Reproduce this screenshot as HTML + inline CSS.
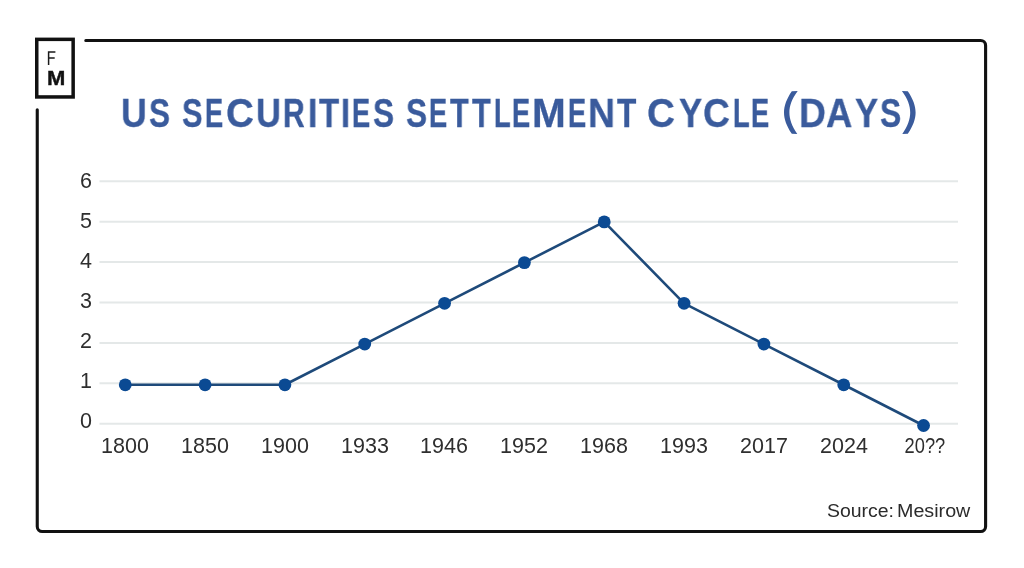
<!DOCTYPE html>
<html><head><meta charset="utf-8">
<style>
html,body{margin:0;padding:0;background:#fff;}
body{width:1024px;height:568px;position:relative;overflow:hidden;font-family:"Liberation Sans",sans-serif;}
.lbl,.s,.w,.lf,.lm{will-change:transform;}
svg{position:absolute;left:0;top:0;}
.w{position:absolute;top:93.3px;font-weight:bold;font-size:40px;line-height:40px;color:#3a5b9c;-webkit-text-stroke:0.3px #3a5b9c;white-space:nowrap;transform-origin:0 0;}
.lf{position:absolute;font-size:19.5px;line-height:19.5px;color:#111;white-space:nowrap;transform-origin:0 0;}
.lm{position:absolute;font-size:20px;line-height:20px;font-weight:bold;color:#111;-webkit-text-stroke:0.4px #111;white-space:nowrap;transform-origin:0 0;}
.lbl{position:absolute;font-size:21.5px;line-height:21.5px;color:#2e2e2e;white-space:nowrap;}
.xl{width:80px;text-align:center;}
.s{position:absolute;font-size:18px;line-height:18px;color:#2b2b2b;white-space:nowrap;transform-origin:0 0;}
</style></head>
<body>
<svg width="1024" height="568" viewBox="0 0 1024 568">
  <path d="M85.8,40.5 L980.6,40.5 A5,5 0 0 1 985.6,45.5 L985.6,526.5 A5,5 0 0 1 980.6,531.5 L42.25,531.5 A5,5 0 0 1 37.25,526.5 L37.25,109.7" fill="none" stroke="#111" stroke-width="3.1" stroke-linecap="round"/>
  <path d="M48.6,65 V51.95 H55.4 M48.6,57.9 H54.7" fill="none" stroke="#1a1a1a" stroke-width="1.5"/>
  <rect x="36.75" y="39.35" width="36.4" height="57.6" fill="none" stroke="#111" stroke-width="3.5"/>
  <g stroke="#e4e8e8" stroke-width="2">
    <line x1="99.5" y1="423.80" x2="958" y2="423.80"/>
    <line x1="99.5" y1="383.37" x2="958" y2="383.37"/>
    <line x1="99.5" y1="342.94" x2="958" y2="342.94"/>
    <line x1="99.5" y1="302.51" x2="958" y2="302.51"/>
    <line x1="99.5" y1="262.08" x2="958" y2="262.08"/>
    <line x1="99.5" y1="221.65" x2="958" y2="221.65"/>
    <line x1="99.5" y1="181.22" x2="958" y2="181.22"/>
  </g>
  <polyline fill="none" stroke="#1e4a7a" stroke-width="2.6" stroke-linejoin="round" points="125.25,384.78 205.08,384.78 284.91,384.78 364.74,344.06 444.57,303.34 524.40,262.62 604.23,221.90 684.06,303.34 763.89,344.06 843.72,384.78 923.55,425.50"/>
  <g fill="#3a5b9c">
    <path id="lp" d="M797.7,91 L791.8,91.3 C786.5,99 784,106 784,112.5 C784,119 786.5,126 791.8,133.8 L797.3,134 C791.8,126 789.4,119 789.4,112.5 C789.4,106 791.8,99 797.7,91 Z"/>
    <path d="M797.7,91 L791.8,91.3 C786.5,99 784,106 784,112.5 C784,119 786.5,126 791.8,133.8 L797.3,134 C791.8,126 789.4,119 789.4,112.5 C789.4,106 791.8,99 797.7,91 Z" transform="translate(1699.6,0) scale(-1,1)"/>
  </g>
  <g fill="#0b4a93">
    <circle cx="125.25" cy="384.78" r="6.4"/>
    <circle cx="205.08" cy="384.78" r="6.4"/>
    <circle cx="284.91" cy="384.78" r="6.4"/>
    <circle cx="364.74" cy="344.06" r="6.4"/>
    <circle cx="444.57" cy="303.34" r="6.4"/>
    <circle cx="524.40" cy="262.62" r="6.4"/>
    <circle cx="604.23" cy="221.90" r="6.4"/>
    <circle cx="684.06" cy="303.34" r="6.4"/>
    <circle cx="763.89" cy="344.06" r="6.4"/>
    <circle cx="843.72" cy="384.78" r="6.4"/>
    <circle cx="923.55" cy="425.50" r="6.4"/>
  </g>
</svg>

<div class="lm" style="left:46.9px;top:67.9px;transform:scaleX(1.10)">M</div>
<div class="w" style="left:121.41px;transform:scaleX(0.892)">U</div>
<div class="w" style="left:149.26px;transform:scaleX(0.785)">S</div>
<div class="w" style="left:182.13px;transform:scaleX(0.770)">S</div>
<div class="w" style="left:205.25px;transform:scaleX(0.680)">E</div>
<div class="w" style="left:225.51px;transform:scaleX(0.964)">C</div>
<div class="w" style="left:255.83px;transform:scaleX(0.862)">U</div>
<div class="w" style="left:283.37px;transform:scaleX(0.753)">R</div>
<div class="w" style="left:308.13px;transform:scaleX(0.842)">I</div>
<div class="w" style="left:318.87px;transform:scaleX(0.822)">T</div>
<div class="w" style="left:341.10px;transform:scaleX(0.816)">I</div>
<div class="w" style="left:352.15px;transform:scaleX(0.680)">E</div>
<div class="w" style="left:372.86px;transform:scaleX(0.787)">S</div>
<div class="w" style="left:405.96px;transform:scaleX(0.787)">S</div>
<div class="w" style="left:429.05px;transform:scaleX(0.680)">E</div>
<div class="w" style="left:450.39px;transform:scaleX(0.767)">T</div>
<div class="w" style="left:472.49px;transform:scaleX(0.769)">T</div>
<div class="w" style="left:494.07px;transform:scaleX(0.680)">L</div>
<div class="w" style="left:512.15px;transform:scaleX(0.680)">E</div>
<div class="w" style="left:532.06px;transform:scaleX(1.014)">M</div>
<div class="w" style="left:567.80px;transform:scaleX(0.680)">E</div>
<div class="w" style="left:588.38px;transform:scaleX(0.932)">N</div>
<div class="w" style="left:617.23px;transform:scaleX(0.790)">T</div>
<div class="w" style="left:647.25px;transform:scaleX(0.966)">C</div>
<div class="w" style="left:678.59px;transform:scaleX(0.866)">Y</div>
<div class="w" style="left:702.71px;transform:scaleX(0.931)">C</div>
<div class="w" style="left:732.69px;transform:scaleX(0.680)">L</div>
<div class="w" style="left:750.85px;transform:scaleX(0.680)">E</div>
<div class="w" style="left:798.79px;transform:scaleX(0.931)">D</div>
<div class="w" style="left:826.29px;transform:scaleX(0.910)">A</div>
<div class="w" style="left:854.69px;transform:scaleX(0.866)">Y</div>
<div class="w" style="left:879.60px;transform:scaleX(0.791)">S</div>
<div class="lbl" style="left:79.9px;top:411.30px">0</div>
<div class="lbl" style="left:79.9px;top:371.20px">1</div>
<div class="lbl" style="left:79.9px;top:331.10px">2</div>
<div class="lbl" style="left:79.9px;top:291.00px">3</div>
<div class="lbl" style="left:79.9px;top:250.90px">4</div>
<div class="lbl" style="left:79.9px;top:210.80px">5</div>
<div class="lbl" style="left:79.9px;top:170.70px">6</div>
<div class="lbl xl" style="left:85.15px;top:435.9px">1800</div>
<div class="lbl xl" style="left:164.98px;top:435.9px">1850</div>
<div class="lbl xl" style="left:244.81px;top:435.9px">1900</div>
<div class="lbl xl" style="left:324.64px;top:435.9px">1933</div>
<div class="lbl xl" style="left:404.47px;top:435.9px">1946</div>
<div class="lbl xl" style="left:484.30px;top:435.9px">1952</div>
<div class="lbl xl" style="left:564.13px;top:435.9px">1968</div>
<div class="lbl xl" style="left:643.96px;top:435.9px">1993</div>
<div class="lbl xl" style="left:723.79px;top:435.9px">2017</div>
<div class="lbl xl" style="left:803.62px;top:435.9px">2024</div>
<div class="lbl xl" style="left:885px;top:435.9px"><span style="display:inline-block;transform:scaleX(0.85)">20??</span></div>
<div class="s" style="left:827.2px;top:501.8px;transform:scaleX(1.08)">Source:</div>
<div class="s" style="left:896.5px;top:501.8px;transform:scaleX(1.094)">Mesirow</div>
</body></html>
